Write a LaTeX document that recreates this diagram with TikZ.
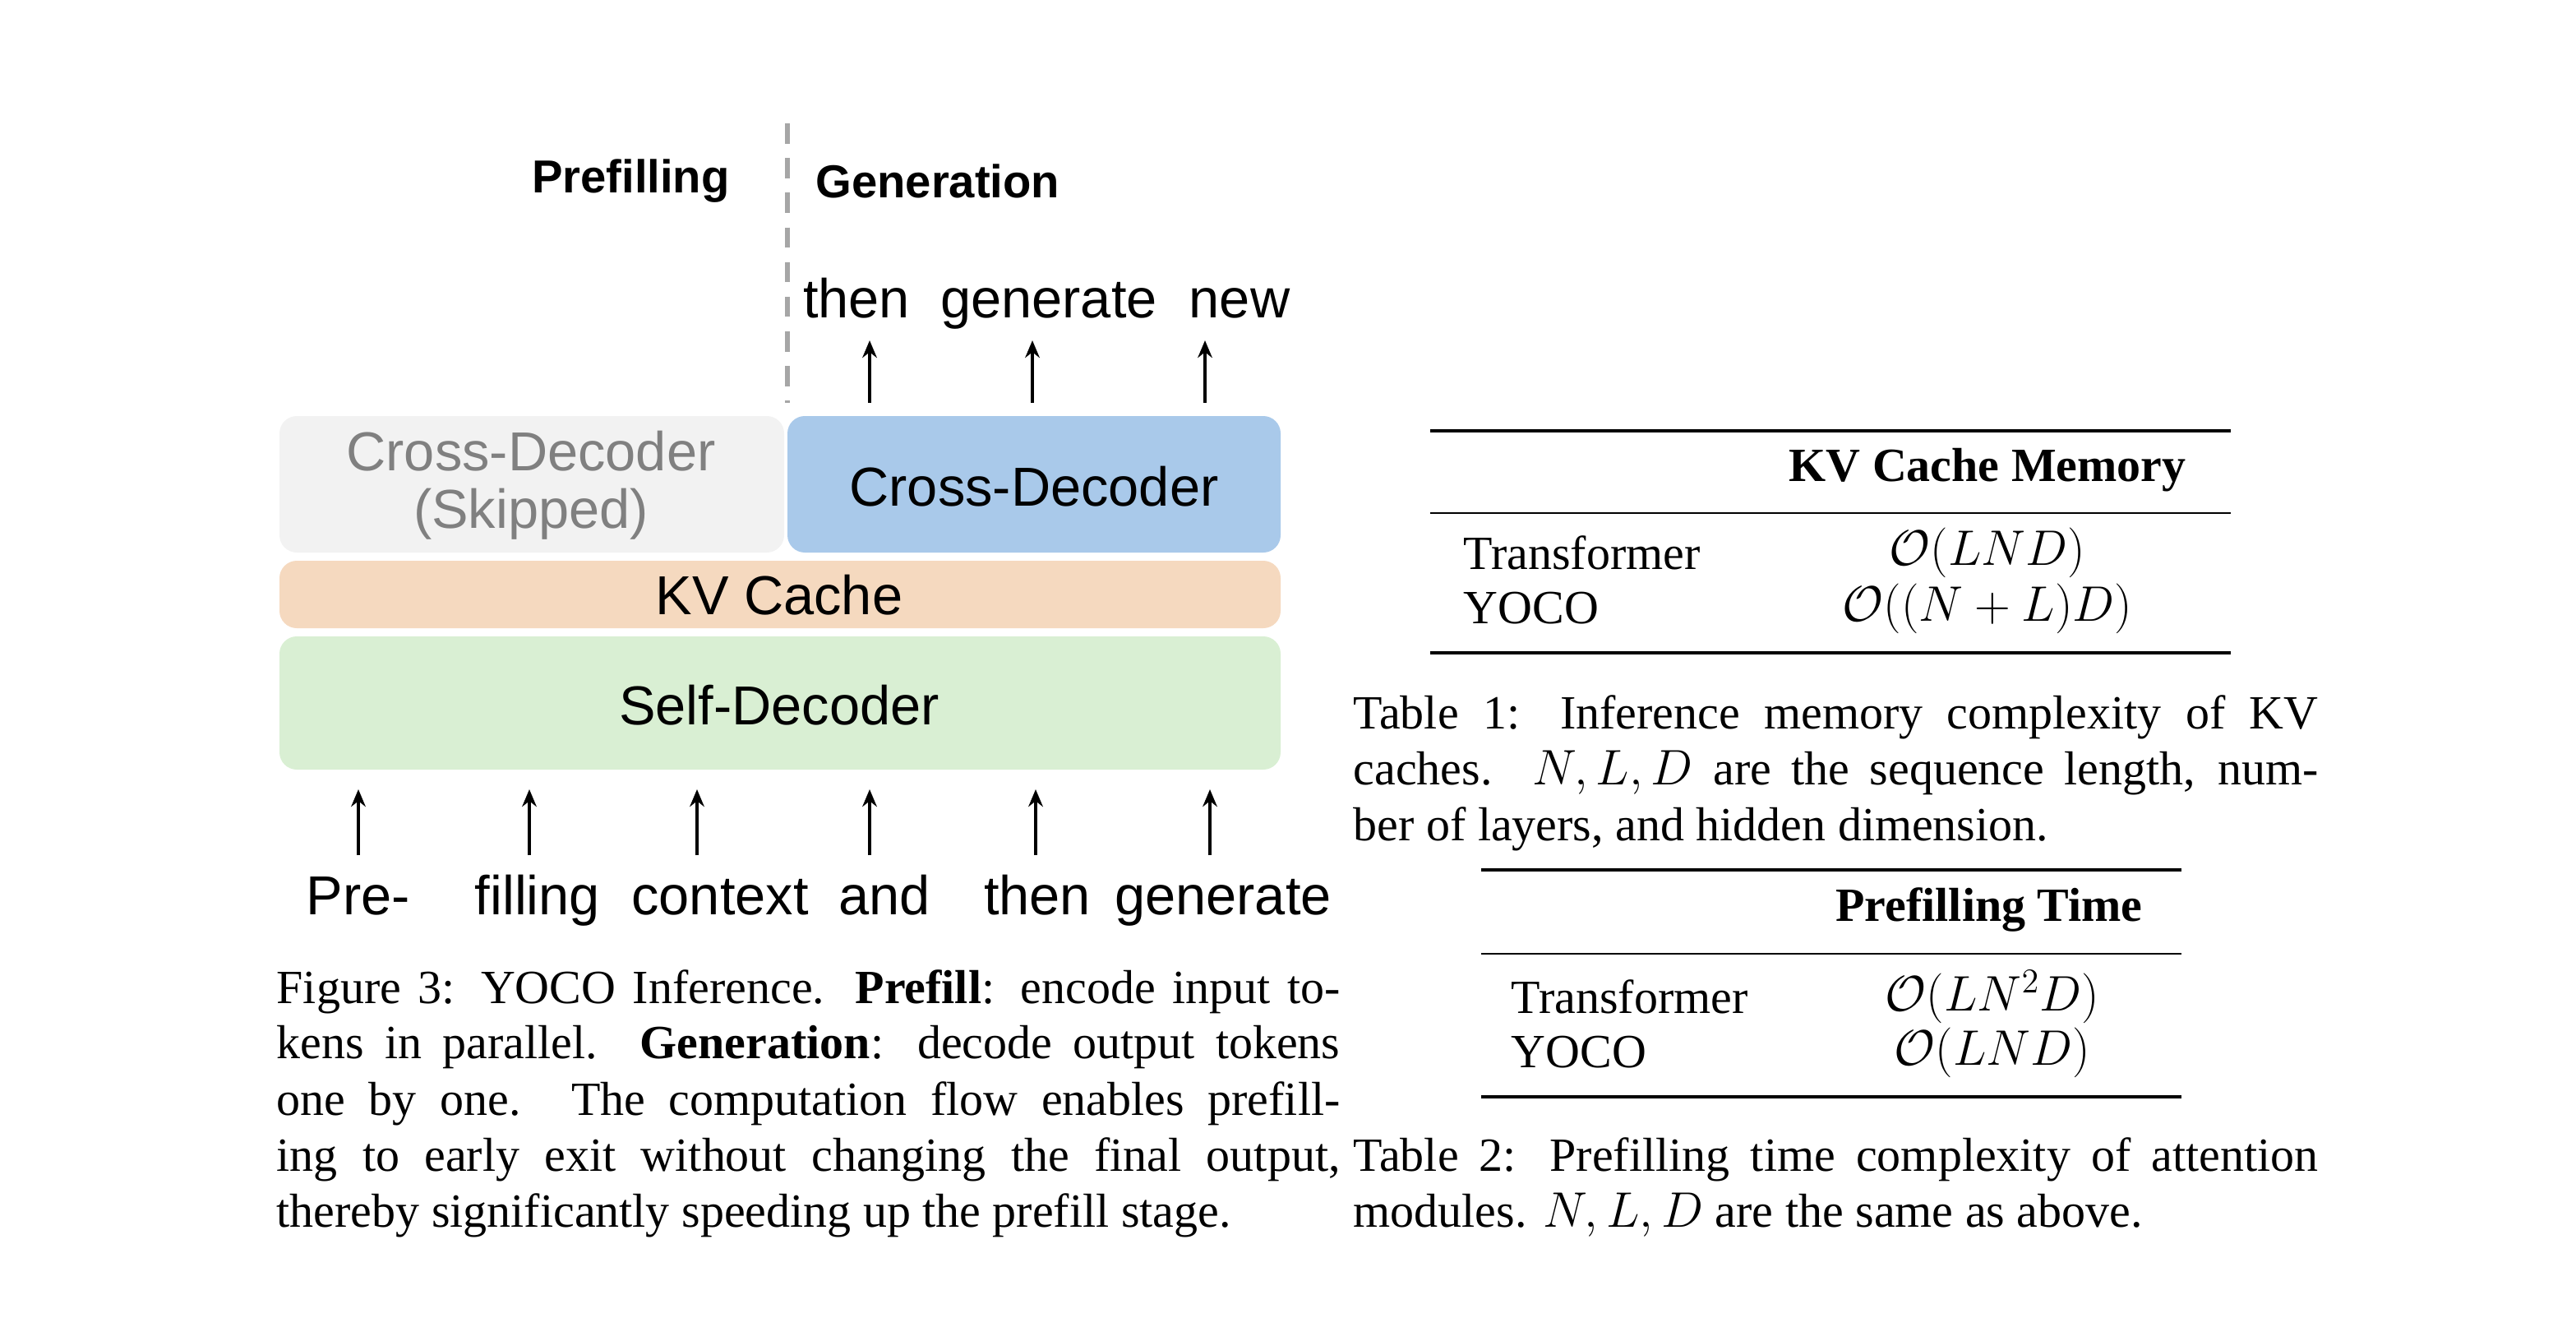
\documentclass[tikz,border=0pt]{standalone}
\usepackage{fontspec}
\usetikzlibrary{arrows.meta}
\setmainfont{Liberation Serif}
\setsansfont{Liberation Sans}
\begin{document}
\begin{tikzpicture}[x=0.02cm,y=-0.02cm,
  blk/.style={rounded corners=6pt,draw=none},
  arr/.style={-{Stealth[length=6pt,width=5pt]},line width=1.1pt},
  dia/.style={font=\sffamily\fontsize{19}{22}\selectfont},
  captxt/.style={font=\fontsize{16.5}{20}\selectfont,anchor=west,inner sep=0},
  tb/.style={font=\fontsize{16.5}{20}\selectfont,inner sep=0}]
\useasboundingbox (0,0) rectangle (1567,801);
\definecolor{skipc}{HTML}{F2F2F2}\definecolor{bluec}{HTML}{A9C9EA}
\definecolor{kvc}{HTML}{F5D9BF}\definecolor{selfc}{HTML}{D9EFD3}
% diagram
\draw[gray!70,line width=1.5pt,dash pattern=on 7pt off 5pt] (479,75) -- (479,245);
\node[anchor=east,font=\sffamily\bfseries\fontsize{16}{19}\selectfont] (pf) at (450,110) {Prefilling};
\node[anchor=west,font=\sffamily\bfseries\fontsize{16}{19}\selectfont] (gn) at (490,110) {Generation};
\fill[skipc,blk] (170,253) rectangle (477,336);
\node[dia,text=gray,align=center] (skip) at (323,295) {Cross-Decoder\\[-2pt](Skipped)};
\fill[bluec,blk] (479,253) rectangle (779,336);
\node[dia] (cd) at (629,296) {Cross-Decoder};
\fill[kvc,blk] (170,341) rectangle (779,382);
\node[dia] (kv) at (474,362) {KV Cache};
\fill[selfc,blk] (170,387) rectangle (779,468);
\node[dia] (sd) at (474,429) {Self-Decoder};
\foreach \n/\x/\w in {t1/521/then,t2/638/generate,t3/754/new}
  \node[dia,anchor=base] (\n) at (\x,193) {\w};
\foreach \n/\x in {a1/529,a2/628,a3/733}{
  \coordinate (\n s) at (\x,245); \coordinate (\n e) at (\x,207);
  \draw[arr] (\n s) -- (\n e);}
\foreach \n/\x/\w in {b1/218/Pre-,b2/327/filling,b3/438/context,b4/538/and,b5/631/then,b6/744/generate}
  \node[dia,anchor=base] (\n) at (\x,556) {\w};
\foreach \n/\x in {c1/218,c2/322,c3/424,c4/529,c5/630,c6/736}{
  \coordinate (\n s) at (\x,520); \coordinate (\n e) at (\x,480);
  \draw[arr] (\n s) -- (\n e);}
% figure caption
\node[captxt] (f1) at (168,603) {\makebox[12.94cm][s]{Figure 3: YOCO Inference. \textbf{Prefill}: encode input to-}};
\node[captxt] (f2) at (168,637) {\makebox[12.94cm][s]{kens in parallel. \textbf{Generation}: decode output tokens}};
\node[captxt] (f3) at (168,671) {\makebox[12.94cm][s]{one by one. The computation flow enables prefill-}};
\node[captxt] (f4) at (168,705) {\makebox[12.94cm][s]{ing to early exit without changing the final output,}};
\node[captxt] (f5) at (168,739) {thereby significantly speeding up the prefill stage.};
% table 1
\draw[line width=1.3pt] (870,262) -- (1357,262);
\draw[line width=0.7pt] (870,312) -- (1357,312);
\draw[line width=1.3pt] (870,397) -- (1357,397);
\node[tb,font=\bfseries\fontsize{16.5}{20}\selectfont] (h1) at (1209,286) {KV Cache Memory};
\node[tb,anchor=west] (r11) at (890,336) {Transformer};
\node[tb,anchor=west] (r12) at (890,370) {YOCO};
\node[tb] (m11) at (1209,336) {$\mathcal{O}(LND)$};
\node[tb] (m12) at (1209,370) {$\mathcal{O}((N+L)D)$};
\node[captxt] (g1) at (823,436) {\makebox[11.74cm][s]{Table 1: Inference memory complexity of KV}};
\node[captxt] (g2) at (823,470) {\makebox[11.74cm][s]{caches. $N,L,D$ are the sequence length, num-}};
\node[captxt] (g3) at (823,504) {ber of layers, and hidden dimension.};
% table 2
\draw[line width=1.3pt] (901,529) -- (1327,529);
\draw[line width=0.7pt] (901,580) -- (1327,580);
\draw[line width=1.3pt] (901,667) -- (1327,667);
\node[tb,font=\bfseries\fontsize{16.5}{20}\selectfont] (h2) at (1210,553) {Prefilling Time};
\node[tb,anchor=west] (r21) at (919,606) {Transformer};
\node[tb,anchor=west] (r22) at (919,640) {YOCO};
\node[tb] (m21) at (1212,606) {$\mathcal{O}(LN^2D)$};
\node[tb] (m22) at (1212,640) {$\mathcal{O}(LND)$};
\node[captxt] (k1) at (823,705) {\makebox[11.74cm][s]{Table 2: Prefilling time complexity of attention}};
\node[captxt] (k2) at (823,739) {modules. $N,L,D$ are the same as above.};
\end{tikzpicture}
\end{document}
